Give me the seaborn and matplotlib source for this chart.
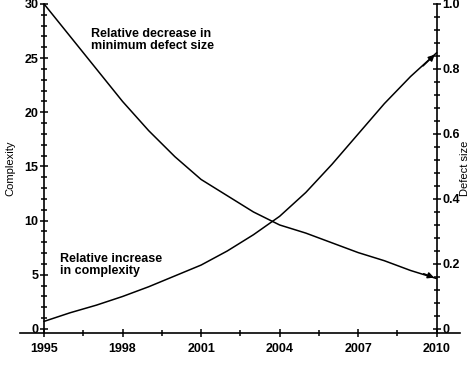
import numpy as np
import pandas as pd
import matplotlib
matplotlib.use("Agg")
import matplotlib.pyplot as plt
import seaborn as sns

# values
years = list(range(1995, 2011))
complexity = [0.7, 1.5, 2.2, 3.0, 3.9, 4.9, 5.9, 7.2, 8.7, 10.4,
              12.6, 15.2, 18.0, 20.8, 23.3, 25.5]
defect_size = [1.00, 0.90, 0.80, 0.70, 0.61, 0.53, 0.46, 0.41, 0.36, 0.32,
               0.295, 0.265, 0.235, 0.21, 0.18, 0.155]
year_ticks = [1995, 1998, 2001, 2004, 2007, 2010]
complexity_ticks = [0, 5, 10, 15, 20, 25, 30]
defect_ticks = [0, 0.2, 0.4, 0.6, 0.8, 1.0]

df = pd.DataFrame({'Year': years, 'Complexity': complexity, 'Defect size': defect_size})

sns.set_style("ticks")
plt.rcParams['font.family'] = ['Liberation Sans', 'DejaVu Sans']
plt.rcParams['text.color'] = 'black'
plt.rcParams['xtick.color'] = 'black'
plt.rcParams['ytick.color'] = 'black'
plt.rcParams['axes.labelcolor'] = 'black'

fig = plt.figure(figsize=(4.74, 3.84), dpi=100)
ax = fig.add_axes([0.042, 0.1328, 0.928, 0.857])
ax2 = ax.twinx()

sns.lineplot(data=df, x='Year', y='Complexity', ax=ax, color='black', lw=1.1)
sns.lineplot(data=df, x='Year', y='Defect size', ax=ax2, color='black', lw=1.1)

ax.set_xlim(1994.08, 2010.88)
ax.set_ylim(-0.37, 30)
ax2.set_ylim(-0.37 / 30, 1.0)

# arrows at the end of the curves
ax.annotate('', xy=(years[-1], complexity[-1]), xytext=(2009.4, 24.1),
            arrowprops=dict(arrowstyle='-|>', color='black', lw=1.1, mutation_scale=9))
ax2.annotate('', xy=(years[-1], defect_size[-1]), xytext=(2009.4, 0.173),
             arrowprops=dict(arrowstyle='-|>', color='black', lw=1.1, mutation_scale=9))

for a in (ax, ax2):
    a.spines['top'].set_visible(False)
    a.spines['left'].set_position(('data', 1995))
    a.spines['right'].set_position(('data', 2010))
    a.set_xlabel('')
    for s in a.spines.values():
        s.set_color('black')
        s.set_linewidth(1.2)
ax2.spines['left'].set_visible(False)
ax2.spines['bottom'].set_visible(False)
ax.spines['right'].set_visible(False)

ax.set_xticks(year_ticks)
ax.set_xticks(np.arange(1995, 2010.1, 1.5), minor=True)
ax.set_yticks(complexity_ticks)
ax.set_yticks(np.arange(0, 30.1, 1), minor=True)
ax2.set_yticks(defect_ticks)
ax2.set_yticklabels(['0', '0.2', '0.4', '0.6', '0.8', '1.0'])
ax2.set_yticks(np.arange(0, 1.001, 0.04), minor=True)

for a in (ax, ax2):
    a.tick_params(which='major', direction='inout', length=6, width=1.1, labelsize=9, pad=1)
    a.tick_params(which='minor', direction='inout', length=4, width=1.1)
    for lab in a.get_xticklabels() + a.get_yticklabels():
        lab.set_fontweight('bold')
ax.tick_params(axis='x', pad=4)

ax.set_ylabel('Complexity', fontsize=8)
ax.yaxis.set_label_coords(-0.01, 0.5)
ax2.set_ylabel('Defect size', fontsize=8, rotation=90)
ax2.yaxis.set_label_coords(1.0, 0.5)

ax.text(1996.8, 26.7, 'Relative decrease in\nminimum defect size', fontsize=9,
        fontweight='bold', va='center', ha='left', linespacing=1.0)
ax.text(1995.6, 5.9, 'Relative increase\nin complexity', fontsize=9,
        fontweight='bold', va='center', ha='left', linespacing=1.0)

fig.savefig('out.png', dpi=100)
